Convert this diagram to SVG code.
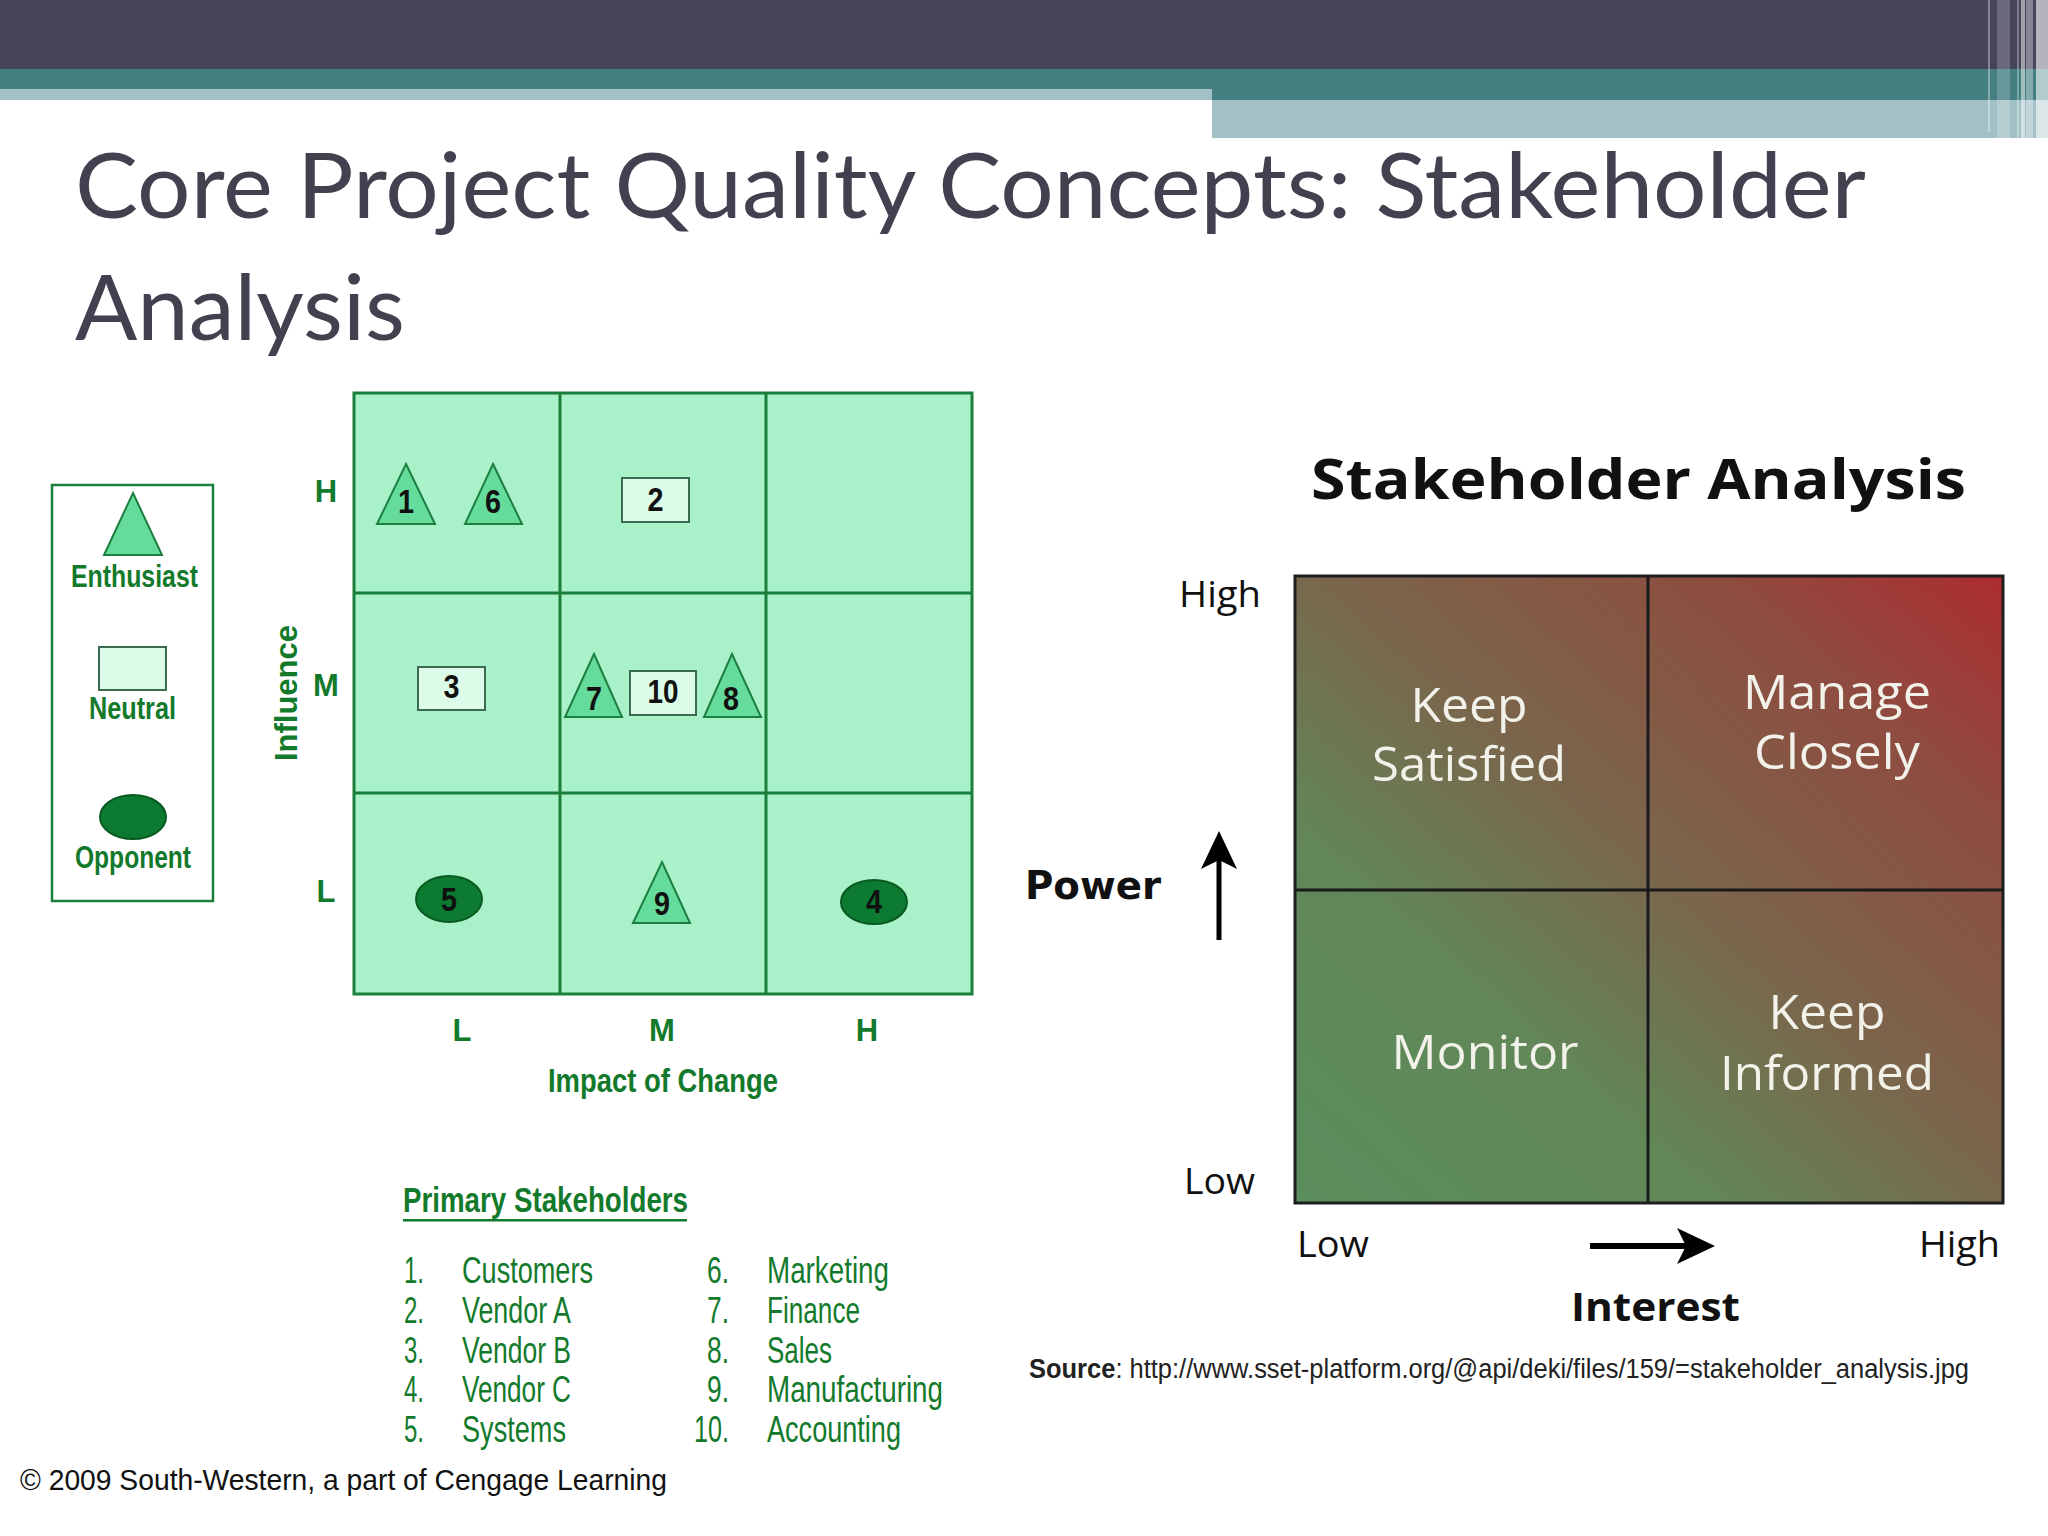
<svg xmlns="http://www.w3.org/2000/svg" width="2048" height="1536" viewBox="0 0 2048 1536">
<defs>
<style>
.g{font-family:"Liberation Sans",Arial,sans-serif;fill:#137a2c;font-weight:bold}
.gl{font-family:"Liberation Sans",Arial,sans-serif;fill:#137a2c}
.num{font-family:"Liberation Sans",Arial,sans-serif;font-weight:bold;fill:#111;font-size:34px;text-anchor:middle}
.cell{fill:none;stroke:#1a7f3a;stroke-width:3}
.tri{fill:#66dc9c;stroke:#1c7f40;stroke-width:2}
.neu{fill:#dcfbe9;stroke:#3a6a50;stroke-width:2}
.opp{fill:#0c7a30;stroke:#075a20;stroke-width:2}
.q{font-family:"Open Sans","Noto Sans",sans-serif;fill:#f2f2ea;font-size:48px;text-anchor:middle}
.ax{font-family:"Open Sans","Noto Sans",sans-serif;fill:#111;font-size:37px}
.ql{stroke:#1a1a1a;stroke-width:3}
.arr{stroke:#000;fill:none}
</style>
<linearGradient id="qg" x1="0" y1="1" x2="1" y2="0">
<stop offset="0" stop-color="#5a8e5c"/>
<stop offset="0.3" stop-color="#628658"/>
<stop offset="0.52" stop-color="#7a664c"/>
<stop offset="0.8" stop-color="#8e4c40"/>
<stop offset="1" stop-color="#ad2c30"/>
</linearGradient>
<marker id="ah" markerUnits="userSpaceOnUse" markerWidth="42" markerHeight="40" viewBox="-40 -20 42 40" refX="-25" refY="0" orient="auto">
<path d="M0,0 L-38,-18 L-29,0 L-38,18 Z" fill="#000"/>
</marker>
</defs>
<rect width="2048" height="1536" fill="#fff"/>

<g id="header">
<rect x="0" y="0" width="2048" height="69" fill="#45445a"/>
<rect x="0" y="69" width="2048" height="31" fill="#447f82"/>
<rect x="0" y="89" width="1212" height="11" fill="#a3c0c6"/>
<rect x="1212" y="100" width="836" height="38" fill="#a3c0c6"/>
<rect x="1988" y="0" width="2" height="132" fill="#fff" opacity="0.35"/>
<rect x="1997" y="0" width="13" height="138" fill="#fff" opacity="0.2"/>
<rect x="2017" y="0" width="2" height="138" fill="#fff" opacity="0.3"/>
<rect x="2021" y="0" width="4" height="138" fill="#fff" opacity="0.5"/>
<rect x="2026" y="0" width="7" height="138" fill="#fff" opacity="0.35"/>
<rect x="2036" y="0" width="12" height="138" fill="#fff" opacity="0.6"/>
</g>

<g id="title" font-family="Lato,'Open Sans',sans-serif" fill="#43414f" font-size="92">
<text x="75" y="218" textLength="1791" lengthAdjust="spacingAndGlyphs">Core Project Quality Concepts: Stakeholder</text>
<text x="75" y="340" textLength="330" lengthAdjust="spacingAndGlyphs">Analysis</text>
</g>

<g id="legend">
<rect x="52" y="485" width="161" height="416" fill="#fff" stroke="#1a7f3a" stroke-width="2.5"/>
<polygon class="tri" points="133,493 162,555 104,555"/>
<text class="g" x="71" y="587" font-size="31" textLength="127" lengthAdjust="spacingAndGlyphs">Enthusiast</text>
<rect class="neu" x="99" y="647" width="67" height="43"/>
<text class="g" x="89" y="719" font-size="31" textLength="87" lengthAdjust="spacingAndGlyphs">Neutral</text>
<ellipse class="opp" cx="133" cy="817" rx="33" ry="22"/>
<text class="g" x="75" y="868" font-size="31" textLength="116" lengthAdjust="spacingAndGlyphs">Opponent</text>
</g>

<g id="grid">
<rect x="354" y="393" width="618" height="601" fill="#a9f2c9"/>
<rect class="cell" x="354" y="393" width="618" height="601"/>
<line class="cell" x1="560" y1="393" x2="560" y2="994"/>
<line class="cell" x1="766" y1="393" x2="766" y2="994"/>
<line class="cell" x1="354" y1="593" x2="972" y2="593"/>
<line class="cell" x1="354" y1="793" x2="972" y2="793"/>
</g>

<g id="grid-axes" class="g" font-size="31" text-anchor="middle">
<text x="326" y="502">H</text>
<text x="326" y="696">M</text>
<text x="326" y="902">L</text>
<text x="297" y="693" transform="rotate(-90 297 693)">Influence</text>
<text x="462" y="1041">L</text>
<text x="662" y="1041">M</text>
<text x="867" y="1041">H</text>
</g>
<text id="impact" class="g" x="548" y="1092" font-size="34" textLength="230" lengthAdjust="spacingAndGlyphs">Impact of Change</text>

<g id="s1"><polygon class="tri" points="406,464 435,524 377,524"/><text class="num" x="406" y="513" textLength="16" lengthAdjust="spacingAndGlyphs">1</text></g>
<g id="s6"><polygon class="tri" points="493,464 522,524 465,524"/><text class="num" x="493" y="513" textLength="16" lengthAdjust="spacingAndGlyphs">6</text></g>
<g id="s2"><rect class="neu" x="622" y="478" width="67" height="44"/><text class="num" x="655.5" y="511" textLength="16" lengthAdjust="spacingAndGlyphs">2</text></g>
<g id="s3"><rect class="neu" x="418" y="667" width="67" height="43"/><text class="num" x="451.5" y="698" textLength="16" lengthAdjust="spacingAndGlyphs">3</text></g>
<g id="s7"><polygon class="tri" points="594,654 622,717 565,717"/><text class="num" x="594" y="710" textLength="16" lengthAdjust="spacingAndGlyphs">7</text></g>
<g id="s10"><rect class="neu" x="630" y="671" width="66" height="44"/><text class="num" x="647.5" y="703" style="text-anchor:start" textLength="31" lengthAdjust="spacingAndGlyphs">10</text></g>
<g id="s8"><polygon class="tri" points="732,654 761,717 704,717"/><text class="num" x="731" y="710" textLength="16" lengthAdjust="spacingAndGlyphs">8</text></g>
<g id="s5"><ellipse class="opp" cx="449" cy="899" rx="33" ry="23"/><text class="num" x="449" y="911" textLength="16" lengthAdjust="spacingAndGlyphs">5</text></g>
<g id="s9"><polygon class="tri" points="662,862 690,923 633,923"/><text class="num" x="662" y="915" textLength="16" lengthAdjust="spacingAndGlyphs">9</text></g>
<g id="s4"><ellipse class="opp" cx="874" cy="902" rx="33" ry="22"/><text class="num" x="874" y="913" textLength="16" lengthAdjust="spacingAndGlyphs">4</text></g>

<g id="primary-stakeholders">
<text class="g" x="403" y="1212" font-size="35" textLength="285" lengthAdjust="spacingAndGlyphs">Primary Stakeholders</text>
<rect x="403" y="1219" width="284" height="2.5" fill="#137a2c"/>
<g class="gl" font-size="36">
<text x="404" y="1283" textLength="20" lengthAdjust="spacingAndGlyphs">1.</text>
<text x="462" y="1283" textLength="131" lengthAdjust="spacingAndGlyphs">Customers</text>
<text x="404" y="1323" textLength="20" lengthAdjust="spacingAndGlyphs">2.</text>
<text x="462" y="1323" textLength="109" lengthAdjust="spacingAndGlyphs">Vendor A</text>
<text x="404" y="1363" textLength="20" lengthAdjust="spacingAndGlyphs">3.</text>
<text x="462" y="1363" textLength="109" lengthAdjust="spacingAndGlyphs">Vendor B</text>
<text x="404" y="1402" textLength="20" lengthAdjust="spacingAndGlyphs">4.</text>
<text x="462" y="1402" textLength="109" lengthAdjust="spacingAndGlyphs">Vendor C</text>
<text x="404" y="1442" textLength="20" lengthAdjust="spacingAndGlyphs">5.</text>
<text x="462" y="1442" textLength="104" lengthAdjust="spacingAndGlyphs">Systems</text>
<text x="707" y="1283" textLength="22" lengthAdjust="spacingAndGlyphs">6.</text>
<text x="767" y="1283" textLength="122" lengthAdjust="spacingAndGlyphs">Marketing</text>
<text x="707" y="1323" textLength="22" lengthAdjust="spacingAndGlyphs">7.</text>
<text x="767" y="1323" textLength="93" lengthAdjust="spacingAndGlyphs">Finance</text>
<text x="707" y="1363" textLength="22" lengthAdjust="spacingAndGlyphs">8.</text>
<text x="767" y="1363" textLength="65" lengthAdjust="spacingAndGlyphs">Sales</text>
<text x="707" y="1402" textLength="22" lengthAdjust="spacingAndGlyphs">9.</text>
<text x="767" y="1402" textLength="176" lengthAdjust="spacingAndGlyphs">Manufacturing</text>
<text x="694" y="1442" textLength="35" lengthAdjust="spacingAndGlyphs">10.</text>
<text x="767" y="1442" textLength="134" lengthAdjust="spacingAndGlyphs">Accounting</text>
</g>
</g>

<text id="copyright" x="20" y="1490" font-family="'Liberation Sans',Arial,sans-serif" font-size="29" fill="#111" textLength="647" lengthAdjust="spacingAndGlyphs">© 2009 South-Western, a part of Cengage Learning</text>

<text id="chart-title" x="1311" y="499" font-family="'Open Sans','Noto Sans',sans-serif" font-weight="bold" font-size="55" fill="#111" textLength="655" lengthAdjust="spacingAndGlyphs">Stakeholder Analysis</text>

<g id="matrix">
<rect x="1295" y="576" width="708" height="627" fill="url(#qg)" stroke="#1e1e1e" stroke-width="3"/>
<line class="ql" x1="1648" y1="576" x2="1648" y2="1203"/>
<line class="ql" x1="1295" y1="890" x2="2003" y2="890"/>
</g>
<g id="keep-satisfied"><text class="q" x="1469" y="722" textLength="117" lengthAdjust="spacingAndGlyphs">Keep</text><text class="q" x="1469" y="781" textLength="194" lengthAdjust="spacingAndGlyphs">Satisfied</text></g>
<g id="manage-closely"><text class="q" x="1837" y="709" textLength="188" lengthAdjust="spacingAndGlyphs">Manage</text><text class="q" x="1837" y="769" textLength="166" lengthAdjust="spacingAndGlyphs">Closely</text></g>
<g id="monitor"><text class="q" x="1485" y="1069" textLength="187" lengthAdjust="spacingAndGlyphs">Monitor</text></g>
<g id="keep-informed"><text class="q" x="1827" y="1029" textLength="117" lengthAdjust="spacingAndGlyphs">Keep</text><text class="q" x="1827" y="1090" textLength="214" lengthAdjust="spacingAndGlyphs">Informed</text></g>

<g id="matrix-axes">
<text class="ax" x="1179" y="607" textLength="82" lengthAdjust="spacingAndGlyphs">High</text>
<text class="ax" x="1184" y="1194" textLength="71" lengthAdjust="spacingAndGlyphs">Low</text>
<text class="ax" x="1297" y="1257" textLength="72" lengthAdjust="spacingAndGlyphs">Low</text>
<text class="ax" x="1919" y="1257" textLength="81" lengthAdjust="spacingAndGlyphs">High</text>
<text x="1025" y="899" font-family="'DejaVu Sans',sans-serif" font-weight="bold" font-size="39" fill="#111" textLength="136" lengthAdjust="spacingAndGlyphs">Power</text>
<text x="1571" y="1321" font-family="'Open Sans','Noto Sans',sans-serif" font-weight="bold" font-size="40" fill="#111" textLength="169" lengthAdjust="spacingAndGlyphs">Interest</text>
</g>

<g id="connectors">
<line class="arr" x1="1219" y1="940" x2="1219" y2="856" stroke-width="5" marker-end="url(#ah)"/>
<line class="arr" x1="1590" y1="1246" x2="1690" y2="1246" stroke-width="6" marker-end="url(#ah)"/>
</g>

<text id="source" x="1029" y="1378" font-family="'Liberation Sans',Arial,sans-serif" font-size="27" fill="#222" textLength="940" lengthAdjust="spacingAndGlyphs"><tspan font-weight="bold">Source</tspan>: http://www.sset-platform.org/@api/deki/files/159/=stakeholder_analysis.jpg</text>
</svg>
